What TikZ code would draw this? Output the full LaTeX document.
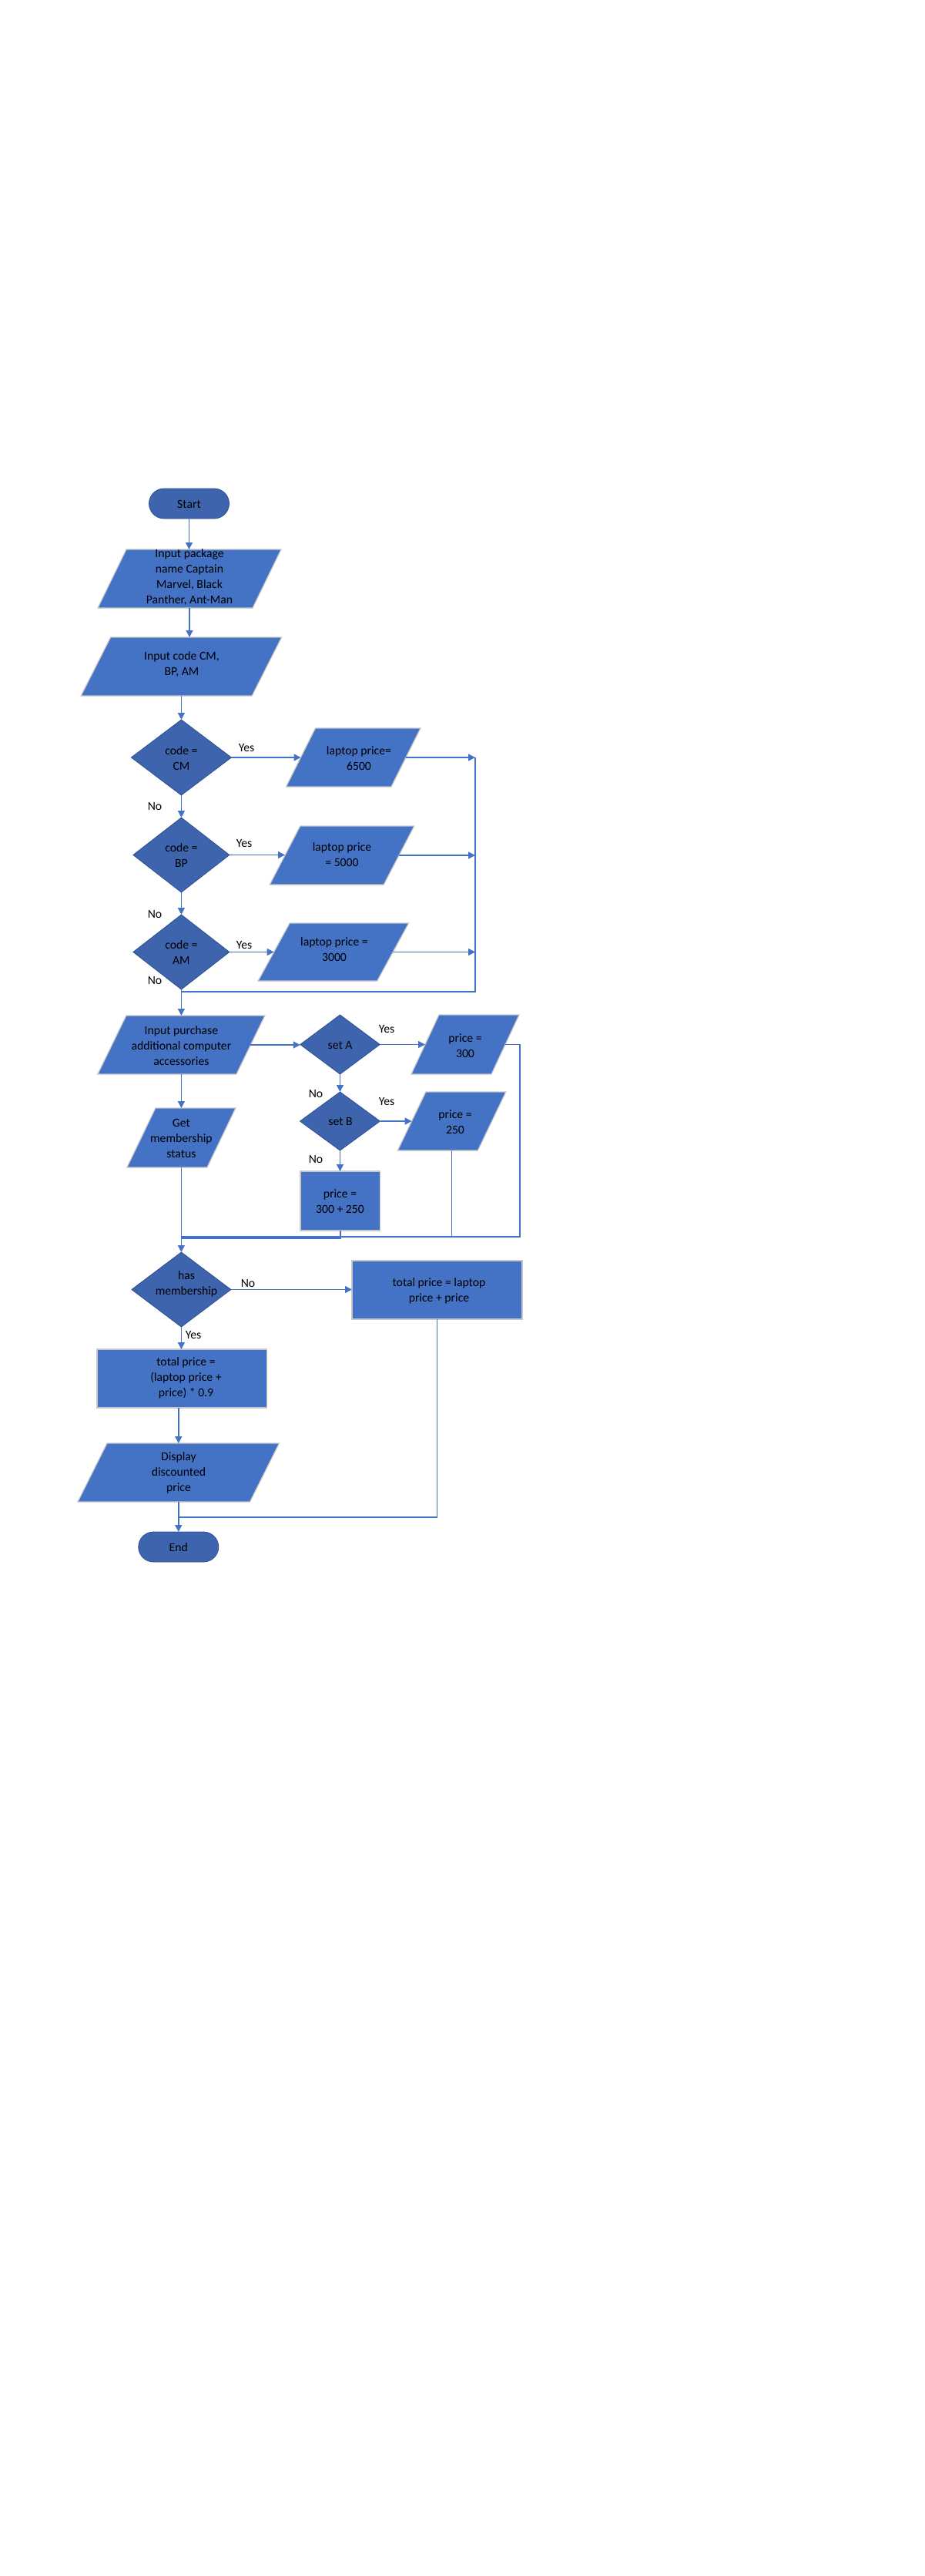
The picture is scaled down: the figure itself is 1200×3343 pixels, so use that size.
\documentclass[tikz,border=0pt]{standalone}
\usepackage{fontspec}
\setmainfont{Carlito}
\usetikzlibrary{shapes.geometric,arrows.meta,calc}
\definecolor{boxblue}{HTML}{4472C4}
\definecolor{decblue}{HTML}{3E64AD}
\definecolor{decedge}{HTML}{2F528F}
\definecolor{boxedge}{HTML}{C8C8C8}
\definecolor{linkblue}{HTML}{4472C4}
\pgfdeclarelayer{bg}
\pgfdeclarelayer{shp}
\pgfsetlayers{bg,shp,main}
\tikzset{
  base/.style={inner sep=0pt, outer sep=0pt},
  iobox/.style={base, rectangle},
  iofill/.style={fill=boxblue, draw=boxedge, line width=1.2pt},
  procbox/.style={base, rectangle, fill=boxblue, draw=boxedge, line width=1.2pt},
  decision/.style={base, diamond, fill=decblue, draw=decedge, line width=0.8pt},
  terminal/.style={base, rectangle, rounded corners=19.5pt, fill=decblue, draw=decedge, line width=0.8pt, minimum width=104pt, minimum height=39pt},
  txt/.style={base, align=center, font=\fontsize{15.7}{20}\selectfont, text=black},
  lbl/.style={txt},
  link/.style={draw=linkblue, line width=1.6pt},
  arr/.style={link, -{Triangle[length=9pt,width=9pt]}},
}
\newcommand{\iopara}[2]{%
  \begin{pgfonlayer}{shp}
  \filldraw[iofill] ($(#1.north west)+(#2/2,0)$) -- ($(#1.north east)+(#2/2,0)$) -- ($(#1.south east)-(#2/2,0)$) -- ($(#1.south west)-(#2/2,0)$) -- cycle;
  \end{pgfonlayer}}
\begin{document}
\begin{tikzpicture}[x={(1pt,0pt)}, y={(0pt,-1pt)}]
\begin{pgfonlayer}{bg}
\fill[white] (0,0) rectangle (1200,3343);
\end{pgfonlayer}
\useasboundingbox (0,0) rectangle (1200,3343);

% shapes
\node[terminal] (start) at (245.5,653.5) {};
\node[txt] (tstart) at (245.5,654) {Start};

\node[iobox, minimum width=201pt, minimum height=76pt] (in1) at (246,751) {};
\iopara{in1}{37}
\node[txt] (tin1) at (246,749) {Input package\\name Captain\\Marvel, Black\\Panther, Ant-Man};

\node[iobox, minimum width=222pt, minimum height=76pt] (in2) at (235.4,865) {};
\iopara{in2}{38.5}
\node[txt] (tin2) at (236,862) {Input code CM,\\BP, AM};

\node[decision, minimum width=130pt, minimum height=98pt] (d1) at (235.4,983) {};
\node[txt] (td1) at (235.4,984) {code =\\CM};

\node[iobox, minimum width=136.5pt, minimum height=76pt] (lp1) at (458.75,983) {};
\iopara{lp1}{38}
\node[txt] (tlp1) at (466,984) {laptop price=\\6500};

\node[decision, minimum width=125pt, minimum height=97pt] (d2) at (235.4,1109.5) {};
\node[txt] (td2) at (235.4,1110) {code =\\BP};

\node[iobox, minimum width=148pt, minimum height=76pt] (lp2) at (444,1110) {};
\iopara{lp2}{39.5}
\node[txt] (tlp2) at (444,1109) {laptop price\\= 5000};

\node[decision, minimum width=125pt, minimum height=97pt] (d3) at (235.4,1235.5) {};
\node[txt] (td3) at (235.4,1236) {code =\\AM};

\node[iobox, minimum width=154.5pt, minimum height=75pt] (lp3) at (432.9,1235.5) {};
\iopara{lp3}{41}
\node[txt] (tlp3) at (434,1232) {laptop price =\\3000};

\node[iobox, minimum width=180pt, minimum height=76pt] (in3) at (235.4,1356) {};
\iopara{in3}{37}
\node[txt] (tin3) at (235.4,1357) {Input purchase\\additional computer\\accessories};

\node[decision, minimum width=103.5pt, minimum height=77pt] (setA) at (441.5,1355.5) {};
\node[txt] (tsetA) at (441.5,1357) {set A};

\node[iobox, minimum width=104pt, minimum height=77pt] (p300) at (604,1355.5) {};
\iopara{p300}{36}
\node[txt] (tp300) at (604,1357) {price =\\300};

\node[decision, minimum width=104pt, minimum height=76pt] (setB) at (441.5,1455) {};
\node[txt] (tsetB) at (442,1456) {set B};

\node[iobox, minimum width=104pt, minimum height=76pt] (p250) at (586.6,1455) {};
\iopara{p250}{36.5}
\node[txt] (tp250) at (591,1456.5) {price =\\250};

\node[procbox, minimum width=103.5pt, minimum height=77pt] (box) at (441.7,1558.5) {};
\node[txt] (tbox) at (441.5,1559) {price =\\300 + 250};

\node[iobox, minimum width=104pt, minimum height=77pt] (getm) at (235.4,1476.5) {};
\iopara{getm}{37}
\node[txt] (tgetm) at (235.4,1477) {Get\\membership\\status};

\node[decision, minimum width=129pt, minimum height=97pt] (d4) at (235.4,1673.5) {};
\node[txt] (td4) at (242,1666) {has\\membership};

\node[procbox, minimum width=221pt, minimum height=76pt] (tp) at (567.5,1674) {};
\node[txt] (ttp) at (570,1675.5) {total price = laptop\\price + price};

\node[procbox, minimum width=220.5pt, minimum height=76pt] (td) at (236.25,1789) {};
\node[txt] (ttd) at (241.5,1788) {total price =\\(laptop price +\\price) * 0.9};

\node[iobox, minimum width=223.5pt, minimum height=76pt] (disp) at (231.75,1911) {};
\iopara{disp}{38}
\node[txt] (tdisp) at (232,1911) {Display\\discounted\\price};

\node[terminal] (end) at (231.75,2007.5) {};
\node[txt] (tend) at (231.75,2008) {End};

% junction points
\coordinate (mtop) at (617,983);
\coordinate (mbot) at (617,1287);
\coordinate (mjoin) at (235.4,1287);
\coordinate (rA) at (675,1355.5);
\coordinate (rB) at (675,1605);
\coordinate (jA) at (235.4,1605);
\coordinate (jB) at (235.4,1607);
\coordinate (jC) at (231.75,1969);

% connectors
\draw[arr] (start.south) -- (start.south |- in1.north);
\draw[arr] (in1.south) -- (in1.south |- in2.north);
\draw[arr] (in2.south) -- (d1.north);
\draw[arr] (d1.east) -- (lp1.west);
\draw[arr] (lp1.east) -- (lp1.east -| mtop);
\draw[arr] (d1.south) -- (d1.south |- d2.north);
\draw[arr] (d2.east) -- (d2.east -| lp2.west);
\draw[arr] (lp2.east) -- (lp2.east -| mtop);
\draw[arr] (d2.south) -- (d2.south |- d3.north);
\draw[arr] (d3.east) -- (lp3.west);
\draw[arr] (lp3.east) -- (lp3.east -| mtop);
\draw[link] (mtop) -- (mbot) -- (mjoin);
\draw[arr] (d3.south) -- (d3.south |- in3.north);
\draw[arr] (in3.east) -- (in3.east -| setA.west);
\draw[arr] (setA.east) -- (p300.west);
\draw[arr] (setA.south) -- (setB.north);
\draw[arr] (setB.east) -- (p250.west);
\draw[arr] (setB.south) -- (setB.south |- box.north);
\draw[arr] (in3.south) -- (getm.north);
\draw[link] (p300.east) -- (rA) -- (rB) -- (jA);
\draw[link] (p250.south) -- (p250.south |- rB);
\draw[link] (box.south) -- (box.south |- jB) -- (jB);
\draw[arr] (getm.south) -- (getm.south |- d4.north);
\draw[arr] (d4.east) -- (d4.east -| tp.west);
\draw[arr] (d4.south) -- (d4.south |- td.north);
\draw[arr] (td.south -| disp.north) -- (disp.north);
\draw[arr] (disp.south) -- (disp.south |- end.north);
\draw[link] (tp.south) -- (tp.south |- jC) -- (jC);

% labels
\node[lbl] (y1) at (320,971) {Yes};
\node[lbl] (n1) at (201,1047) {No};
\node[lbl] (y2) at (317,1095) {Yes};
\node[lbl] (n2) at (201,1187) {No};
\node[lbl] (y3) at (317,1227) {Yes};
\node[lbl] (n3) at (201,1273) {No};
\node[lbl] (yA) at (502,1336) {Yes};
\node[lbl] (nA) at (410,1419) {No};
\node[lbl] (yB) at (502,1430) {Yes};
\node[lbl] (nB) at (410,1504) {No};
\node[lbl] (n4) at (322,1665) {No};
\node[lbl] (y4) at (251,1732) {Yes};
\end{tikzpicture}
\end{document}
